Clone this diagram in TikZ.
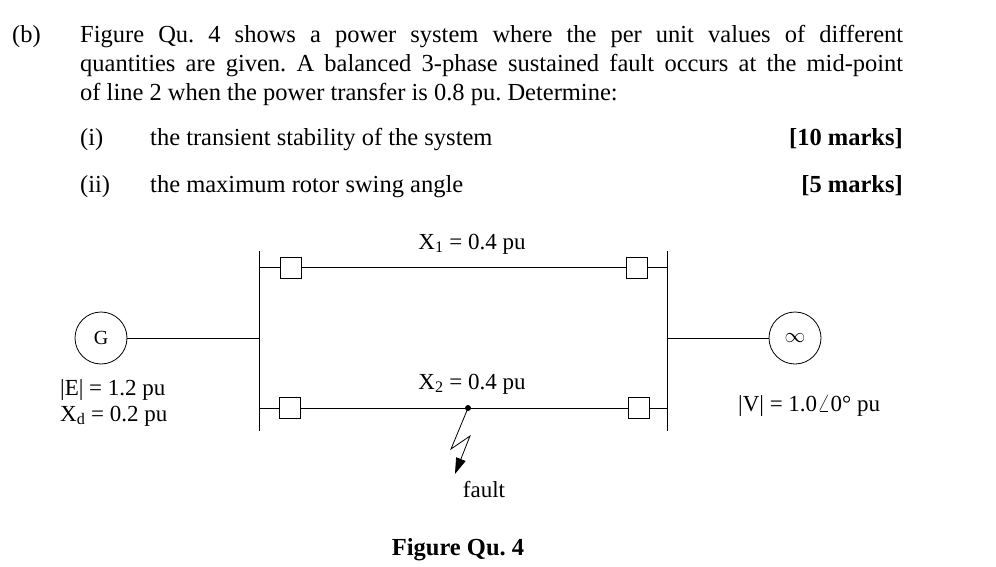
\documentclass[tikz,border=0pt]{standalone}
\usepackage{fontspec}
\setmainfont{Liberation Serif}
\usetikzlibrary{arrows.meta}
\begin{document}
\frenchspacing
\begin{tikzpicture}[x=1pt,y=-1pt,
  body/.style={inner sep=0,font=\fontsize{24.5}{28}\selectfont},
  lbl/.style={inner sep=0,font=\fontsize{23}{26}\selectfont},
  brk/.style={draw,thick,fill=white,minimum width=21pt,minimum height=21pt,inner sep=0},
  wire/.style={thick},
  mach/.style={draw,thick,circle,minimum size=52pt,inner sep=0}]
\useasboundingbox (0,0) rectangle (996,567);
% text
\node[body,anchor=base west] (b) at (12,43) {(b)};
\node[body,anchor=base west] (l1) at (80,43) {\makebox[823pt][s]{Figure Qu. 4 shows a power system where the per unit values of different}};
\node[body,anchor=base west] (l2) at (80,72) {\makebox[823pt][s]{quantities are given. A balanced 3-phase sustained fault occurs at the mid-point}};
\node[body,anchor=base west] (l3) at (80,101) {of line 2 when the power transfer is 0.8 pu. Determine:};
\node[body,anchor=base west] (i) at (80,146) {(i)};
\node[body,anchor=base west] (it) at (150,146) {the transient stability of the system};
\node[body,anchor=base east] (im) at (903,146) {\bfseries [10 marks]};
\node[body,anchor=base west] (ii) at (80,193) {(ii)};
\node[body,anchor=base west] (iit) at (150,193) {the maximum rotor swing angle};
\node[body,anchor=base east] (iim) at (903,193) {\bfseries [5 marks]};
% buses
\coordinate (lbT) at (259,251); \coordinate (lbB) at (259,431);
\coordinate (rbT) at (667,251); \coordinate (rbB) at (667,431);
\draw[wire] (lbT) -- (lbB);
\draw[wire] (rbT) -- (rbB);
% generator and infinite bus
\node[mach] (G) at (101,338) {\fontsize{20}{22}\selectfont G};
\node[mach] (inf) at (795,338) {\fontsize{20}{22}\selectfont$\infty$};
\coordinate (lbM) at (259,338); \coordinate (rbM) at (667,338);
\draw[wire] (G) -- (lbM);
\draw[wire] (rbM) -- (inf);
% lines
\coordinate (t1) at (259,267); \coordinate (t2) at (667,267);
\coordinate (u1) at (259,408); \coordinate (u2) at (667,408);
\draw[wire] (t1) -- (t2);
\draw[wire] (u1) -- (u2);
\node[brk] (b1) at (291,268) {};
\node[brk] (b2) at (637,268) {};
\node[brk] (b3) at (290,408) {};
\node[brk] (b4) at (639,408) {};
% fault
\fill (468,408) circle (3pt);
\coordinate (f0) at (468,408);
\coordinate (f1) at (451,449);
\coordinate (f2) at (470,436);
\coordinate (f3) at (455,474);
\draw[thick,-{Triangle[length=16pt,width=10pt]}] (f0) -- (f1) -- (f2) -- (f3);
% labels
\node[lbl,anchor=base] (x1) at (472,249) {X\textsubscript{1} = 0.4 pu};
\node[lbl,anchor=base] (x2) at (472,389) {X\textsubscript{2} = 0.4 pu};
\node[lbl,anchor=base] (fl) at (484,497) {fault};
\node[lbl,anchor=base west] (E) at (60,395) {|E| = 1.2 pu};
\node[lbl,anchor=base west] (Xd) at (60,421) {X\textsubscript{d} = 0.2 pu};
\node[lbl,anchor=base west] (V) at (738,411) {|V| = 1.0$\angle$0° pu};
\node[body,anchor=base] (cap) at (458,555) {\bfseries Figure Qu. 4};
\end{tikzpicture}
\end{document}
